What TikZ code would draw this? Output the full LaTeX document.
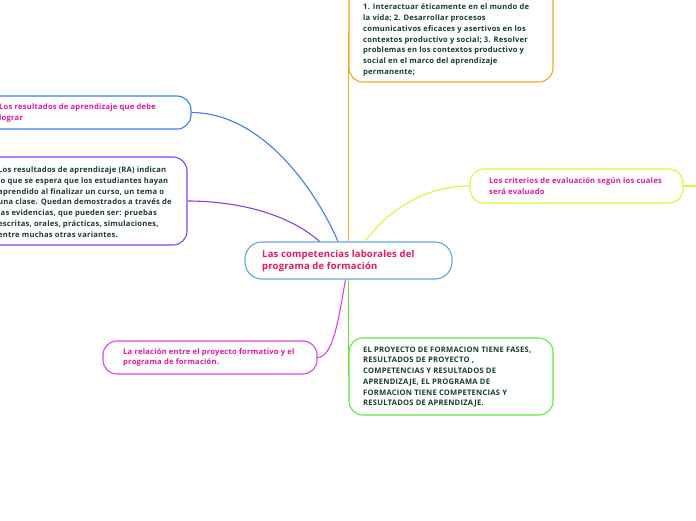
\documentclass[tikz,border=0pt]{standalone}
\usepackage{fontspec}
\setmainfont{Open Sans}
\newfontfamily\spacedfont[LetterSpace=3]{Open Sans}
\newfontfamily\cspacedfont[LetterSpace=2]{Open Sans}
\definecolor{cblue}{HTML}{3D7CF2}
\definecolor{cpurple}{HTML}{8A3DF0}
\definecolor{cyellow}{HTML}{D8F53C}
\definecolor{corange}{HTML}{F7A325}
\definecolor{cmagenta}{HTML}{E040E8}
\definecolor{cgreen}{HTML}{62E83C}
\definecolor{ccenter}{HTML}{5FA8DE}
\definecolor{tmag}{HTML}{E0189B}
\definecolor{tdark}{HTML}{173D2F}
\definecolor{tcrim}{HTML}{E8175D}
\tikzset{
  topic/.style={draw, line width=1.1pt, rounded corners=14pt, fill=white, inner sep=0pt},
  txt/.style={font=\spacedfont\bfseries\fontsize{7.6}{10.75}\selectfont, align=left, inner sep=0pt, anchor=west},
  ctxt/.style={font=\cspacedfont\bfseries\fontsize{9.5}{12}\selectfont, align=left, inner sep=0pt, anchor=west, text=tcrim},
  conn/.style={line width=1.1pt}
}
\begin{document}
\begin{tikzpicture}[x=1pt,y=-1pt]
\useasboundingbox (0,0) rectangle (696,520);
% boxes
\node[topic, draw=ccenter, rounded corners=17pt, minimum width=207pt, minimum height=37pt] (center) at (348.5,260.5) {};
\node[topic, draw=corange, minimum width=204pt, minimum height=102pt] (top) at (451,31) {};
\node[topic, draw=cblue, minimum width=205pt, minimum height=33pt] (blue) at (88.5,112.5) {};
\node[topic, draw=cpurple, minimum width=205pt, minimum height=88pt] (purple) at (84.5,201) {};
\node[topic, draw=cyellow, minimum width=213pt, minimum height=34pt] (crit) at (576.5,186) {};
\node[topic, draw=cmagenta, minimum width=214pt, minimum height=33pt] (rel) at (210,357.5) {};
\node[topic, draw=cgreen, minimum width=204pt, minimum height=77pt] (green) at (451,376.5) {};
\coordinate (yend) at (696,186);
% connectors
\draw[conn, corange] (center.north) -- (center.north |- top.west);
\draw[conn, cgreen] (center.south) -- (center.south |- green.west);
\draw[conn, cblue] (blue.east) .. controls (265,113) and (318,195) .. ([xshift=-10.5pt]center.north);
\draw[conn, cpurple] (purple.east) .. controls (240,201) and (290,215) .. ([xshift=-29pt]center.north);
\draw[conn, cyellow] ([xshift=16.5pt]center.north) .. controls (392,205) and (430,186) .. (crit.west);
\draw[conn, cyellow] (crit.east) -- (yend);
\draw[conn, cmagenta] ([xshift=-3pt]center.south) .. controls (338,322) and (333,357) .. (rel.east);
% texts
\node[ctxt] (centertxt) at (262,261) {Las competencias laborales del\\programa de formación};
\node[txt, text=tdark] (toptxt) at (363,40) {1. Interactuar éticamente en el mundo de\\la vida; 2. Desarrollar procesos\\comunicativos eficaces y asertivos en los\\contextos productivo y social; 3. Resolver\\problemas en los contextos productivo y\\social en el marco del aprendizaje\\permanente;};
\node[txt, text=tmag] (bluetxt) at (-1,113) {Los resultados de aprendizaje que debe\\lograr};
\node[txt, text=tdark] (purpletxt) at (-2,202) {Los resultados de aprendizaje (RA) indican\\lo que se espera que los estudiantes hayan\\aprendido al finalizar un curso, un tema o\\una clase. Quedan demostrados a través de\\las evidencias, que pueden ser: pruebas\\escritas, orales, prácticas, simulaciones,\\entre muchas otras variantes.};
\node[txt, text=tmag] (crittxt) at (489,186) {Los criterios de evaluación según los cuales\\será evaluado};
\node[txt, text=tmag] (reltxt) at (123,357.5) {La relación entre el proyecto formativo y el\\programa de formación.};
\node[txt, text=tdark] (greentxt) at (363,377) {EL PROYECTO DE FORMACION TIENE FASES,\\RESULTADOS DE PROYECTO ,\\COMPETENCIAS Y RESULTADOS DE\\APRENDIZAJE, EL PROGRAMA DE\\FORMACION TIENE COMPETENCIAS Y\\RESULTADOS DE APRENDIZAJE.};
\end{tikzpicture}
\end{document}
